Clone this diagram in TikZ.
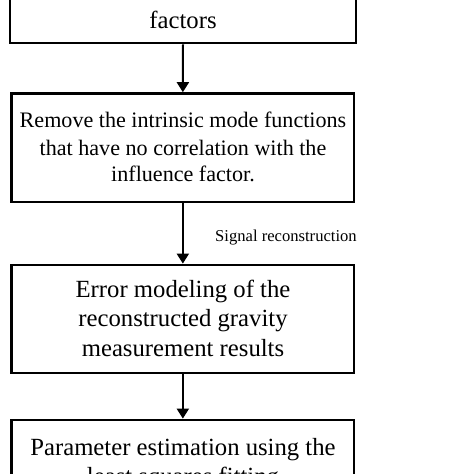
\documentclass[tikz,border=0pt]{standalone}
\usepackage{fontspec}
\setmainfont{Liberation Serif}
\usetikzlibrary{arrows.meta}
\tikzset{
  box/.style={draw=black, line width=2.8pt, fill=white, inner sep=0pt, minimum width=342.3pt},
  big/.style={anchor=base, inner sep=0pt, font=\fontsize{24.7}{29.5}\selectfont},
  mid/.style={anchor=base, inner sep=0pt, font=\fontsize{22.1}{27}\selectfont},
  small/.style={anchor=base west, inner sep=0pt, font=\fontsize{16.6}{20}\selectfont},
  arr/.style={draw=black, line width=2pt, -{Triangle[width=12pt,length=10pt]}}
}
\begin{document}
\begin{tikzpicture}[x=1pt,y=-1pt]
\useasboundingbox (0,0) rectangle (474,474);
\fill[white] (0,0) rectangle (474,474);
\clip (0,0) rectangle (474,474);
% boxes
\node[box, minimum width=346pt, minimum height=123pt] (b1) at (183,-18.5) {};
\node[box, minimum height=108.4pt] (b2) at (182.85,147.8) {};
\node[box, minimum height=108pt] (b3) at (182.85,319) {};
\node[box, minimum height=110pt] (b4) at (182.85,475) {};
% texts
\node[big] (t1) at (183,28) {factors};
\node[mid] (t2a) at (183,127.7) {Remove the intrinsic mode functions};
\node[mid] (t2b) at (183,155) {that have no correlation with the};
\node[mid] (t2c) at (183,181.7) {influence factor.};
\node[big] (t3a) at (183,297.7) {Error modeling of the};
\node[big] (t3b) at (183,326.9) {reconstructed gravity};
\node[big] (t3c) at (183,356.4) {measurement results};
\node[big] (t4a) at (183,455) {Parameter estimation using the};
\node[big] (t4b) at (183,484.5) {least squares fitting};
% label
\node[small] (lab) at (215,241.5) {Signal reconstruction};
% arrows
\draw[arr] (b1.south) -- (b2.north);
\draw[arr] (b2.south) -- (b3.north);
\draw[arr] (b3.south) -- (b4.north);
\end{tikzpicture}
\end{document}
